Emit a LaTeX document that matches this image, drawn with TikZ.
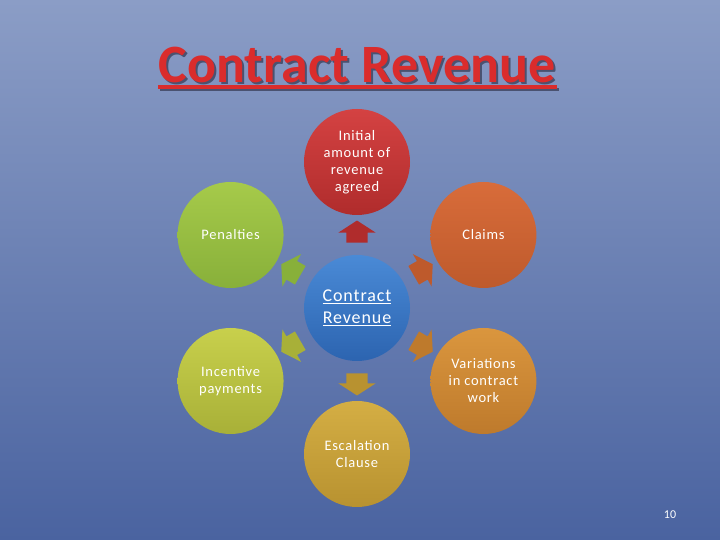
\documentclass[tikz,border=0pt]{standalone}
\usepackage{fontspec}
\setmainfont{Carlito}
\usetikzlibrary{calc,shapes.arrows}
\definecolor{bgtop}{HTML}{8B9DC6}
\definecolor{bgbot}{HTML}{4A63A0}
\definecolor{titlered}{HTML}{DA2C2C}
\definecolor{titleshade}{HTML}{4A5270}
\definecolor{redtop}{HTML}{D44242}
\definecolor{redbot}{HTML}{B02C2C}
\definecolor{claimtop}{HTML}{D86C3A}
\definecolor{claimbot}{HTML}{BE5A2C}
\definecolor{vartop}{HTML}{DA963E}
\definecolor{varbot}{HTML}{BE7A2C}
\definecolor{esctop}{HTML}{D4AE44}
\definecolor{escbot}{HTML}{B89230}
\definecolor{inctop}{HTML}{C8D04C}
\definecolor{incbot}{HTML}{A8B038}
\definecolor{pentop}{HTML}{A6CA4A}
\definecolor{penbot}{HTML}{88B03A}
\definecolor{coretop}{HTML}{4A8AD6}
\definecolor{corebot}{HTML}{2C64B0}
\newcommand{\shadowed}[1]{%
	\makebox[0pt][l]{\hspace{2pt}\raisebox{-2pt}{\color{titleshade}#1}}{\color{titlered}#1}}
\tikzset{
	bubble/.style={
			circle, minimum size=106pt, inner sep=2pt, align=center, text=white,
			font=\fontsize{14.5}{17}\selectfont\addfontfeature{LetterSpace=5}
		},
	flow/.style={
			single arrow, minimum height=22pt, inner xsep=0pt, inner ysep=10.5pt,
			single arrow head extend=8pt, single arrow tip angle=114
		}
}

\begin{document}
\begin{tikzpicture}[x=1pt,y=1pt]
        \shade[top color=bgtop, bottom color=bgbot] (0,0) rectangle (720,540);
        \useasboundingbox (0,0) rectangle (720,540);

        % title with shadow and underline
        \node[anchor=base, font=\fontsize{54}{60}\bfseries\selectfont] (title) at (357,457) {\shadowed{Contract Revenue}};
        \fill[titleshade] (160,449) rectangle (559,452);
        \fill[titlered] (158,451) rectangle (557,455);

        % centre and the six parts
        \node[bubble, shade, top color=coretop, bottom color=corebot, font=\fontsize{18}{22}\selectfont\addfontfeature{LetterSpace=5}] (core) at (357,232) {\underline{Contract}\\\underline{Revenue}};
        \node[bubble, shade, top color=redtop, bottom color=redbot] (initial) at ($(core)+(90:146)$) {Initial\\amount of\\revenue\\agreed};
        \node[bubble, shade, top color=claimtop, bottom color=claimbot] (claims) at ($(core)+(30:146)$) {Claims};
        \node[bubble, shade, top color=vartop, bottom color=varbot] (variations) at ($(core)+(-30:146)$) {Variations\\in contract\\work};
        \node[bubble, shade, top color=esctop, bottom color=escbot] (escalation) at ($(core)+(-90:146)$) {Escalation\\Clause};
        \node[bubble, shade, top color=inctop, bottom color=incbot] (incentive) at ($(core)+(210:146)$) {Incentive\\payments};
        \node[bubble, shade, top color=pentop, bottom color=penbot] (penalties) at ($(core)+(150:146)$) {Penalties};

        % block arrows
        \node[flow, fill=redbot, rotate=90] (toinitial) at ($(core)!0.5!(initial)$) {};
        \node[flow, fill=claimbot, rotate=30] (toclaims) at ($(core)!0.5!(claims)$) {};
        \node[flow, fill=varbot, rotate=-30] (tovariations) at ($(core)!0.5!(variations)$) {};
        \node[flow, fill=escbot, rotate=-90] (toescalation) at ($(core)!0.5!(escalation)$) {};
        \node[flow, fill=incbot, rotate=210] (toincentive) at ($(core)!0.5!(incentive)$) {};
        \node[flow, fill=penbot, rotate=150] (topenalties) at ($(core)!0.5!(penalties)$) {};

        \node[text=white, font=\fontsize{12}{14}\selectfont] (page) at (670,25) {10};
    \end{tikzpicture}
\end{document}
